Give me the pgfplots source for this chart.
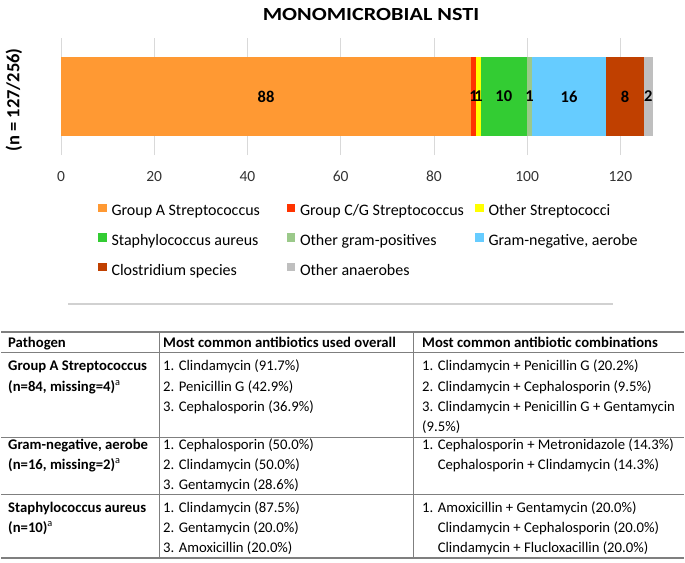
\documentclass[border=0pt]{standalone}
\usepackage{fontspec}
\setmainfont{Carlito}
\usepackage{pgfplots}
\pgfplotsset{compat=1.18}

\definecolor{grpA}{HTML}{FF9933}
\definecolor{grpCG}{HTML}{FF3300}
\definecolor{othStrep}{HTML}{FFFF00}
\definecolor{staph}{HTML}{33CC33}
\definecolor{othGP}{HTML}{9BC98A}
\definecolor{gramneg}{HTML}{66CCFF}
\definecolor{clost}{HTML}{C04000}
\definecolor{othAn}{HTML}{BFBFBF}
\definecolor{rule}{HTML}{7F7F7F}

\newcommand{\tfont}{\fontsize{14.7}{17}\selectfont}
\newcommand{\cell}[3]{\node[anchor=base west, inner sep=0pt, font=\tfont] at (#1,-#2) {#3};}
\newcommand{\legtxt}[1]{\makebox[175pt][l]{#1}}

\begin{document}
\begin{tikzpicture}[x=1pt,y=1pt]
\useasboundingbox (0,0) rectangle (685,-562);

\node[font=\fontsize{18.5}{22}\selectfont\bfseries, xscale=1.2] at (371,-14) {MONOMICROBIAL NSTI};
\node[font=\fontsize{18.5}{22}\selectfont\bfseries, rotate=90] at (14,-100) {(n = 127/256)};

\begin{axis}[
    at={(61pt,-155pt)}, anchor=south west,
    scale only axis, width=592pt, height=117pt,
    xbar stacked, bar width=79pt,
    xmin=0, xmax=127, ymin=0, ymax=2,
    xtick={0,20,...,120}, ytick=\empty,
    xmajorgrids, grid style={draw=black!15, line width=0.8pt},
    axis line style={draw=none},
    major tick length=0pt,
    tick label style={font=\fontsize{15.5}{18}\selectfont, text=black!80},
    /pgf/number format/assume math mode=true,
    xticklabel style={inner sep=0pt, yshift=-16pt},
    legend columns=3,
    legend cell align=left,
    legend image code/.code={\fill[#1] (0pt,-0.3pt) rectangle (8.5pt,8.2pt);},
    legend style={at={(0.0625,-0.4145)}, anchor=north west, draw=none, fill=none,
        inner sep=0pt, outer sep=0pt, row sep=14.5pt,
        font=\fontsize{16}{19}\selectfont,
        nodes={inner sep=0pt, text height=11pt, text depth=3pt},
        /tikz/every odd column/.append style={column sep=5pt}},
]
\addplot[fill=grpA, draw=none] coordinates {(88,1)};
\addplot[fill=grpCG, draw=none] coordinates {(1,1)};
\addplot[fill=othStrep, draw=none] coordinates {(1,1)};
\addplot[fill=staph, draw=none] coordinates {(10,1)};
\addplot[fill=othGP, draw=none] coordinates {(1,1)};
\addplot[fill=gramneg, draw=none] coordinates {(16,1)};
\addplot[fill=clost, draw=none] coordinates {(8,1)};
\addplot[fill=othAn, draw=none] coordinates {(2,1)};
\legend{\legtxt{Group A Streptococcus}, \legtxt{Group C/G Streptococcus}, \legtxt{Other Streptococci},
        \legtxt{Staphylococcus aureus}, \legtxt{Other gram-positives}, \legtxt{Gram-negative, aerobe},
        \legtxt{Clostridium species}, \legtxt{Other anaerobes}}
\end{axis}

% segment labels, centred in each segment
\begin{axis}[
    at={(61pt,-155pt)}, anchor=south west,
    scale only axis, width=592pt, height=117pt,
    xmin=0, xmax=127, ymin=0, ymax=2,
    hide axis,
    /pgf/number format/assume math mode=true,
]
\addplot[only marks, mark=none, point meta=explicit, nodes near coords,
    nodes near coords style={anchor=center, inner sep=0pt,
        font=\fontsize{16.5}{19}\selectfont\bfseries, text=black}]
    table[x=x, y=y, meta=v] {
x y v
44 1 88
88.5 1 1
89.6 1 1
95 1 10
100.5 1 1
109 1 16
121 1 8
126 1 2
};
\end{axis}

\draw[black!18, line width=1.2pt] (68,-304) -- (613,-304);

% table rules
\draw[rule, line width=1.1pt] (1,-332) -- (684,-332);
\draw[rule, line width=0.9pt] (1,-352.5) -- (684,-352.5);
\draw[rule, line width=0.9pt] (1,-437) -- (684,-437);
\draw[rule, line width=0.9pt] (1,-494) -- (684,-494);
\draw[rule, line width=1.1pt] (1,-558) -- (684,-558);
\draw[rule, line width=0.9pt] (159,-332) -- (159,-558);
\draw[rule, line width=0.9pt] (413,-332) -- (413,-558);

% header
\cell{8}{347}{\bfseries Pathogen}
\cell{163}{347}{\bfseries Most common antibiotics used overall}
\cell{422}{347}{\bfseries Most common antibiotic combinations}

% Group A Streptococcus
\cell{8}{370}{\bfseries Group A Streptococcus}
\cell{8}{391}{\bfseries (n=84, missing=4)\textsuperscript{\mdseries a}}
\cell{163}{370}{1. Clindamycin (91.7\%)}
\cell{163}{391}{2. Penicillin G (42.9\%)}
\cell{163}{411}{3. Cephalosporin (36.9\%)}
\cell{422}{370}{1. Clindamycin + Penicillin G (20.2\%)}
\cell{422}{391}{2. Clindamycin + Cephalosporin (9.5\%)}
\cell{422}{411}{3. Clindamycin + Penicillin G + Gentamycin}
\cell{422}{431}{(9.5\%)}

% Gram-negative, aerobe
\cell{8}{449}{\bfseries Gram-negative, aerobe}
\cell{8}{469}{\bfseries (n=16, missing=2)\textsuperscript{\mdseries a}}
\cell{163}{449}{1. Cephalosporin (50.0\%)}
\cell{163}{469}{2. Clindamycin (50.0\%)}
\cell{163}{489}{3. Gentamycin (28.6\%)}
\cell{422}{449}{1. Cephalosporin + Metronidazole (14.3\%)}
\cell{422}{469}{\phantom{1. }Cephalosporin + Clindamycin (14.3\%)}

% Staphylococcus aureus
\cell{8}{512}{\bfseries Staphylococcus aureus}
\cell{8}{532}{\bfseries (n=10)\textsuperscript{\mdseries a}}
\cell{163}{512}{1. Clindamycin (87.5\%)}
\cell{163}{532}{2. Gentamycin (20.0\%)}
\cell{163}{552}{3. Amoxicillin (20.0\%)}
\cell{422}{512}{1. Amoxicillin + Gentamycin (20.0\%)}
\cell{422}{532}{\phantom{1. }Clindamycin + Cephalosporin (20.0\%)}
\cell{422}{552}{\phantom{1. }Clindamycin + Flucloxacillin (20.0\%)}

\end{tikzpicture}
\end{document}
